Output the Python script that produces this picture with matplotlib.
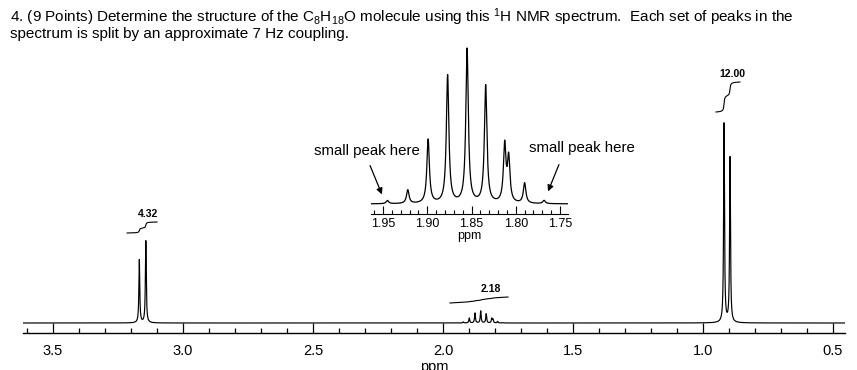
import numpy as np
import matplotlib
matplotlib.use("Agg")
import matplotlib.pyplot as plt
from matplotlib.ticker import MultipleLocator, FixedLocator

plt.rcParams['font.family'] = ['Liberation Sans', 'DejaVu Sans']
plt.rcParams['mathtext.fontset'] = 'custom'
plt.rcParams['mathtext.rm'] = 'Liberation Sans'
plt.rcParams['mathtext.it'] = 'Liberation Sans:italic'
plt.rcParams['mathtext.bf'] = 'Liberation Sans:bold'

# ---- data (ppm, heights in px above baseline) ----
peak_ppm = [3.168, 3.143, 1.945, 1.922, 1.899, 1.877, 1.855, 1.834, 1.8125, 1.808, 1.790, 1.768, 0.919, 0.896]
peak_height = [63, 82, 0.25, 1.06, 4.97, 9.95, 12.0, 9.15, 4.45, 3.4, 1.58, 0.25, 199, 165]
inset_scale = 12.85  # inset magnification of the 1.85 multiplet

integral_labels = ["4.32", "2.18", "12.00"]
integral_ranges = [(3.215, 3.100), (1.973, 1.750), (0.950, 0.858)]
integral_start = [100, 30, 221]
integral_rise = [11, 6, 30]
integral_offset = [0.3, 1.5, 0.5]

main_ticks_major = [3.5, 3.0, 2.5, 2.0, 1.5, 1.0, 0.5]
inset_ticks_major = [1.95, 1.90, 1.85, 1.80, 1.75]

W, H = 857, 370
fig = plt.figure(figsize=(W / 100, H / 100), dpi=100)


def lorentz(x, centers, heights, hw):
    y = np.zeros_like(x)
    for c, h in zip(centers, heights):
        y += h / (1 + ((x - c) / hw) ** 2)
    return y


# ---- main axes ----
px_per_ppm = 260.0
x_left_px, x_right_px = 23, 845
ppm_left = 2.0 + (443 - x_left_px) / px_per_ppm
ppm_right = 2.0 - (x_right_px - 443) / px_per_ppm
ax = fig.add_axes([x_left_px / W, (H - 333) / H, (x_right_px - x_left_px) / W, (333 - 40) / H])
ax.set_xlim(ppm_left, ppm_right)
ax.set_ylim(0, 293)
base = 10
x = np.linspace(ppm_left, ppm_right, 40000)
y = lorentz(x, peak_ppm, peak_height, 0.002)
ax.plot(x, base + y, color='black', lw=0.85)

for sp in ['top', 'left', 'right']:
    ax.spines[sp].set_visible(False)
ax.spines['bottom'].set_linewidth(1.0)
ax.set_yticks([])
ax.xaxis.set_major_locator(FixedLocator(main_ticks_major))
ax.xaxis.set_minor_locator(MultipleLocator(0.1))
ax.set_xticklabels([f"{t:.1f}" for t in main_ticks_major])
ax.tick_params(axis='x', which='major', direction='in', length=7, width=0.9, labelsize=10.5, pad=8)
ax.tick_params(axis='x', which='minor', direction='in', length=3.5, width=0.9)
ax.set_xlabel("ppm", fontsize=10.5, labelpad=1)

# integrals
for lab, (a, b), s0, r, off in zip(integral_labels, integral_ranges, integral_start, integral_rise, integral_offset):
    xi = np.linspace(a, b, 600)
    yi = lorentz(xi, peak_ppm, peak_height, 0.002) + off
    cum = np.cumsum(yi)
    cum = (cum - cum[0]) / (cum[-1] - cum[0])
    ax.plot(xi, s0 + r * cum, color='black', lw=0.8)
    xm = b + (a - b) * 0.3
    ax.text(xm, s0 + r + 3, lab, fontsize=7.5, fontweight='bold', ha='center', va='bottom')

# ---- inset ----
ipx_per_ppm = 885.0
ix_left, ix_right = 371, 568
ippm_left = 1.95 + (383 - ix_left) / ipx_per_ppm
ippm_right = 1.75 - (ix_right - 560) / ipx_per_ppm
iax = fig.add_axes([ix_left / W, (H - 214) / H, (ix_right - ix_left) / W, (214 - 40) / H])
iax.set_xlim(ippm_left, ippm_right)
iax.set_ylim(0, 174)
ibase = 10
xi = np.linspace(ippm_left, ippm_right, 8000)
yi = lorentz(xi, peak_ppm, peak_height, 0.0017) * inset_scale
iax.plot(xi, ibase + yi, color='black', lw=0.9)
iax.patch.set_alpha(0)
for sp in ['top', 'left', 'right']:
    iax.spines[sp].set_visible(False)
iax.set_yticks([])
iax.xaxis.set_major_locator(FixedLocator(inset_ticks_major))
iax.xaxis.set_minor_locator(MultipleLocator(0.01))
iax.set_xticklabels([f"{t:.2f}" for t in inset_ticks_major])
iax.tick_params(axis='x', which='major', direction='in', length=6, width=0.8, labelsize=9, pad=3)
iax.tick_params(axis='x', which='minor', direction='in', length=3, width=0.8)
iax.set_xlabel("ppm", fontsize=9, labelpad=0)

# ---- annotations ----
fig.text(314 / W, 1 - 151 / H, "small peak here", fontsize=10.8, va='center', ha='left')
fig.text(529 / W, 1 - 148 / H, "small peak here", fontsize=10.8, va='center', ha='left')
fig.add_artist(matplotlib.patches.FancyArrowPatch((369 / W, 1 - 163 / H), (383 / W, 1 - 197 / H),
               transform=fig.transFigure, arrowstyle='-|>', mutation_scale=9, color='black', lw=0.9))
fig.add_artist(matplotlib.patches.FancyArrowPatch((560 / W, 1 - 162 / H), (547 / W, 1 - 194 / H),
               transform=fig.transFigure, arrowstyle='-|>', mutation_scale=9, color='black', lw=0.9))

# ---- title ----
fig.text(10 / W, 1 - 17 / H,
         r"4. (9 Points) Determine the structure of the C$_8$H$_{18}$O molecule using this $^1$H NMR spectrum.  Each set of peaks in the",
         fontsize=11, va='center', ha='left')
fig.text(10 / W, 1 - 34 / H, "spectrum is split by an approximate 7 Hz coupling.",
         fontsize=11, va='center', ha='left')

fig.savefig("out.png", dpi=100)
